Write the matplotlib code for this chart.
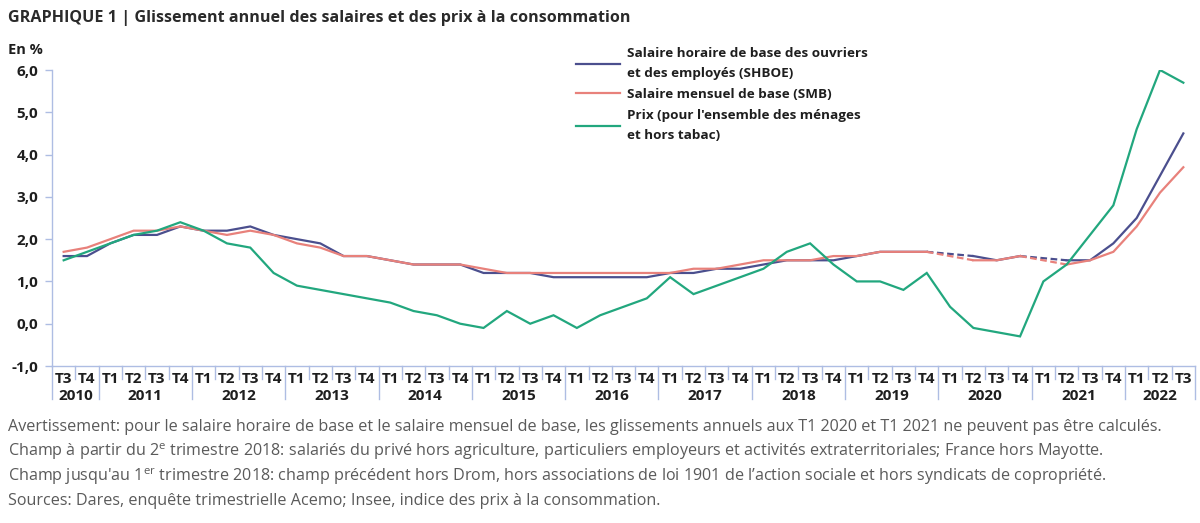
import numpy as np
import matplotlib
matplotlib.use('Agg')
import matplotlib.pyplot as plt
from matplotlib.lines import Line2D

plt.rcParams['font.family'] = ['Open Sans', 'DejaVu Sans']
plt.rcParams['mathtext.fontset'] = 'custom'
plt.rcParams['mathtext.rm'] = 'Open Sans'

quarters = ['T3', 'T4'] + ['T1', 'T2', 'T3', 'T4'] * 11 + ['T1', 'T2', 'T3']
years = [str(y) for y in range(2010, 2023)]

# salaire horaire de base des ouvriers et employes (None = non calculable)
shboe = [1.6, 1.6,
         1.9, 2.1, 2.1, 2.3,
         2.2, 2.2, 2.3, 2.1,
         2.0, 1.9, 1.6, 1.6,
         1.5, 1.4, 1.4, 1.4,
         1.2, 1.2, 1.2, 1.1,
         1.1, 1.1, 1.1, 1.1,
         1.2, 1.2, 1.3, 1.3,
         1.4, 1.5, 1.5, 1.5,
         1.6, 1.7, 1.7, 1.7,
         None, 1.6, 1.5, 1.6,
         None, 1.5, 1.5, 1.9,
         2.5, 3.5, 4.5]
smb = [1.7, 1.8,
       2.0, 2.2, 2.2, 2.3,
       2.2, 2.1, 2.2, 2.1,
       1.9, 1.8, 1.6, 1.6,
       1.5, 1.4, 1.4, 1.4,
       1.3, 1.2, 1.2, 1.2,
       1.2, 1.2, 1.2, 1.2,
       1.2, 1.3, 1.3, 1.4,
       1.5, 1.5, 1.5, 1.6,
       1.6, 1.7, 1.7, 1.7,
       None, 1.5, 1.5, 1.6,
       None, 1.4, 1.5, 1.7,
       2.3, 3.1, 3.7]
prix = [1.5, 1.7,
        1.9, 2.1, 2.2, 2.4,
        2.2, 1.9, 1.8, 1.2,
        0.9, 0.8, 0.7, 0.6,
        0.5, 0.3, 0.2, 0.0,
        -0.1, 0.3, 0.0, 0.2,
        -0.1, 0.2, 0.4, 0.6,
        1.1, 0.7, 0.9, 1.1,
        1.3, 1.7, 1.9, 1.4,
        1.0, 1.0, 0.8, 1.2,
        0.4, -0.1, -0.2, -0.3,
        1.0, 1.4, 2.1, 2.8,
        4.6, 6.0, 5.7]

labels = ['Salaire horaire de base des ouvriers\net des employés (SHBOE)',
          'Salaire mensuel de base (SMB)',
          "Prix (pour l'ensemble des ménages\net hors tabac)"]
colors = ['#4b4f8e', '#e8817b', '#22a77e']
axis_col = '#aebde3'
txt_col = '#1e1e1e'

notes = [
    "Avertissement: pour le salaire horaire de base et le salaire mensuel de base, les glissements annuels aux T1 2020 et T1 2021 ne peuvent pas être calculés.",
    "Champ à partir du 2$^{\\mathrm{e}}$ trimestre 2018: salariés du privé hors agriculture, particuliers employeurs et activités extraterritoriales; France hors Mayotte.",
    "Champ jusqu'au 1$^{\\mathrm{er}}$ trimestre 2018: champ précédent hors Drom, hors associations de loi 1901 de l’action sociale et hors syndicats de copropriété.",
    "Sources: Dares, enquête trimestrielle Acemo; Insee, indice des prix à la consommation.",
]

fig = plt.figure(figsize=(12, 5.23), dpi=100)
ax = fig.add_axes([52 / 1200, 1 - 366 / 523, (1195 - 52) / 1200, (366 - 70) / 523])

x = np.arange(len(quarters))
for serie, col in zip([shboe, smb, prix], colors):
    y = np.array([np.nan if v is None else v for v in serie])
    ax.plot(x, y, color=col, lw=1.6, solid_joinstyle='miter')
    # segments en pointilles autour des valeurs manquantes
    for i in np.where(np.isnan(y))[0]:
        ax.plot([i - 1, i + 1], [y[i - 1], y[i + 1]], color=col, lw=1.6,
                dashes=(3, 1.6))

ax.set_xlim(-0.5, len(quarters) - 0.5)
ax.set_ylim(-1, 6)
ax.set_yticks(np.arange(-1, 7))
ax.set_yticklabels([f'{v:.1f}'.replace('.', ',') for v in np.arange(-1, 7)],
                   fontsize=11, fontweight='bold', color=txt_col)
ax.tick_params(axis='y', length=5, width=1, color=axis_col, pad=5)

for s in ['top', 'right']:
    ax.spines[s].set_visible(False)
for s in ['left', 'bottom']:
    ax.spines[s].set_color(axis_col)
    ax.spines[s].set_linewidth(1)

# separateurs des trimestres et des annees
ax.set_xticks([])
trans = ax.get_xaxis_transform()
year_pos = []
start = 0
for i in range(len(quarters) + 1):
    long = i == 0 or i == len(quarters) or quarters[i] == 'T1'
    depth = -0.11 if long else -0.045
    ax.plot([i - 0.5, i - 0.5], [0, depth], transform=trans, color=axis_col,
            lw=1, clip_on=False)
    if i < len(quarters):
        ax.text(i, -0.045, quarters[i], transform=trans, ha='center', va='center',
                fontsize=11, fontweight='bold', color=txt_col)
    if i > 0 and (i == len(quarters) or quarters[i] == 'T1'):
        year_pos.append((start + i - 1) / 2)
        start = i
for yp, yr in zip(year_pos, years):
    ax.text(yp, -0.1, yr, transform=trans, ha='center', va='center',
            fontsize=11, fontweight='bold', color=txt_col)

fig.text(8 / 1200, 1 - 18 / 523, 'GRAPHIQUE 1 | Glissement annuel des salaires et des prix à la consommation',
         fontsize=11.6, fontweight='bold', color='#2a2a2a', va='center', ha='left')
fig.text(8 / 1200, 1 - 50 / 523, 'En %', fontsize=10.5, fontweight='bold',
         color=txt_col, va='center', ha='left')

handles = [Line2D([], [], color=c, lw=1.6) for c in colors]
leg = fig.legend(handles, labels, loc='upper left', bbox_to_anchor=(569 / 1200, 1 - 40 / 523),
                 frameon=False, handlelength=3.3, handletextpad=0.5,
                 labelspacing=0.6, borderpad=0, prop={'weight': 'bold', 'size': 9.7})
for t in leg.get_texts():
    t.set_color(txt_col)
    t.set_linespacing(1.7)

for k, note in enumerate(notes):
    fig.text(8 / 1200, 1 - (427 + 24.7 * k) / 523, note, fontsize=11.6,
             color='#5a5a5a', va='center', ha='left')

fig.savefig('out.png', dpi=100)
